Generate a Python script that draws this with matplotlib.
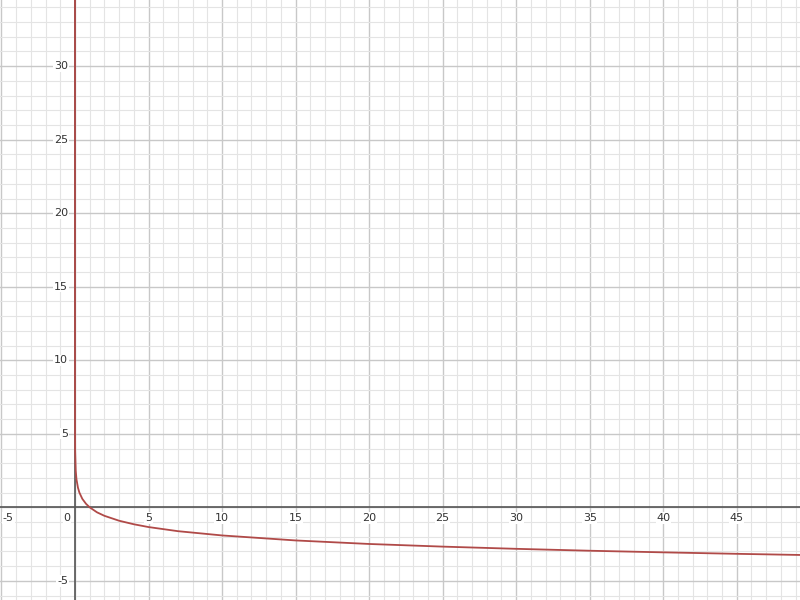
import matplotlib
matplotlib.use("Agg")
import matplotlib.pyplot as plt
import math

# Curve points
curve_x = [0.0, 0.00001, 0.001, 0.01, 0.05, 0.1, 0.2, 0.3, 0.5, 0.75, 1, 1.5, 2, 3, 4, 5,
           7, 10, 15, 20, 25, 30, 35, 40, 45, 50]
curve_y = [36.0, 9.56, 5.73, 3.82, 2.49, 1.91, 1.34, 1.0, 0.575, 0.24, 0.0, -0.34, -0.575,
           -0.91, -1.15, -1.34, -1.62, -1.91, -2.25, -2.49, -2.67, -2.82, -2.95, -3.06,
           -3.16, -3.25]

x_tick_labels = [-5, 0, 5, 10, 15, 20, 25, 30, 35, 40, 45]
y_tick_labels = [-5, 5, 10, 15, 20, 25, 30]

xmin, xmax = -5.1, 49.3
ymin, ymax = -6.3, 34.5

fig = plt.figure(figsize=(8, 6), dpi=100)
ax = fig.add_axes([0, 0, 1, 1])
ax.set_xlim(xmin, xmax)
ax.set_ylim(ymin, ymax)
for s in ax.spines.values():
    s.set_visible(False)
ax.set_xticks([])
ax.set_yticks([])

# grid
for gx in range(math.ceil(xmin), math.floor(xmax) + 1):
    major = gx % 5 == 0
    ax.axvline(gx, color="#c8c8c8" if major else "#e4e4e4", lw=1.0 if major else 0.8, zorder=1)
for gy in range(math.ceil(ymin), math.floor(ymax) + 1):
    major = gy % 5 == 0
    ax.axhline(gy, color="#c8c8c8" if major else "#e4e4e4", lw=1.0 if major else 0.8, zorder=1)

# axes
ax.axhline(0, color="#555555", lw=1.2, zorder=2)
ax.axvline(0, color="#555555", lw=1.2, zorder=2)

bb = dict(facecolor="white", edgecolor="none", pad=0.5)
# labels
for v in x_tick_labels:
    if v == 0:
        ax.annotate("0", (0, 0), xytext=(-6, -4), textcoords="offset points",
                    ha="center", va="top", fontsize=8, color="#333333", zorder=3, bbox=bb)
    elif v == -5:
        ax.annotate(str(v), (v, 0), xytext=(1, -4), textcoords="offset points",
                    ha="left", va="top", fontsize=8, color="#333333", zorder=3, bbox=bb)
    else:
        ax.annotate(str(v), (v, 0), xytext=(0, -4), textcoords="offset points",
                    ha="center", va="top", fontsize=8, color="#333333", zorder=3, bbox=bb)
for v in y_tick_labels:
    ax.annotate(str(v), (0, v), xytext=(-5, 0), textcoords="offset points",
                ha="right", va="center", fontsize=8, color="#333333", zorder=3, bbox=bb)

ax.plot(curve_x, curve_y, color="#b04a48", lw=1.3, zorder=4, solid_joinstyle="round")

fig.savefig("out.png", dpi=100)
